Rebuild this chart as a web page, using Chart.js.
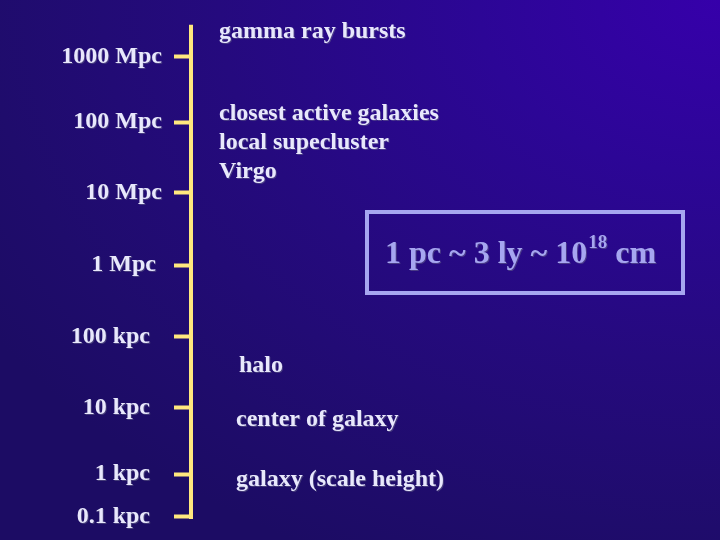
<!DOCTYPE html>
<html>
<head>
<meta charset="utf-8">
<script src="https://cdn.jsdelivr.net/npm/chart.js@4"></script>
<style>
  html, body { margin: 0; padding: 0; }
  body {
    width: 720px; height: 540px; overflow: hidden;
    background: radial-gradient(ellipse 120% 115% at 100% 0%, #3600aa 0%, #2c0696 28%, #250a7e 58%, #1f0c6c 85%, #1c0c64 100%);
  }
  #wrap { width: 720px; height: 540px; position: relative; }
</style>
</head>
<body>
<div id="wrap"><canvas id="ladder"></canvas></div>
<script>
// distance ladder, levels are log10(d / pc) as placed on the drawn scale
const tickLabels = ["1000 Mpc", "100 Mpc", "10 Mpc", "1 Mpc", "100 kpc", "10 kpc", "1 kpc", "0.1 kpc"];
const tickLevels = [9, 8.01, 6.93, 5.83, 4.74, 3.66, 2.65, 2.0];
const noteLabels = ["gamma ray bursts", "closest active galaxies", "local supecluster", "Virgo",
                    "halo", "center of galaxy", "galaxy (scale height)"];
const noteLevels = [9.38, 8.13, 7.69, 7.25, 4.30, 3.48, 2.56];
const ladderEnds = [9.49, 1.97];

// styling
const serif = "'Liberation Serif', 'Times New Roman', serif";
const textColor = "#e8e8fc";
const ladderColor = "#ffe87e";
const labelSpaces = [0, 0, 0, 1, 2, 2, 2, 2];
const noteIndent = [28, 28, 28, 28, 48, 45, 45];
const box = { x: 367, y: 212, w: 316, h: 81, color: "#a6a6f0" };

function setShadow(ctx) {
  ctx.shadowColor = "rgba(110,110,140,0.5)";
  ctx.shadowOffsetX = 1;
  ctx.shadowOffsetY = 1;
  ctx.shadowBlur = 0;
}

const notesPlugin = {
  id: "notes",
  afterDatasetsDraw(chart) {
    // tick labels (z = 1) are drawn after this hook, give them the slide shadow
    chart.ctx.save();
    setShadow(chart.ctx);
  },
  afterDraw(chart) {
    const ctx = chart.ctx;
    ctx.restore();
    const y = chart.scales.y;
    const left = chart.chartArea.left;
    ctx.save();
    setShadow(ctx);
    ctx.fillStyle = textColor;
    ctx.font = "bold 24px " + serif;
    ctx.textAlign = "left";
    ctx.textBaseline = "middle";
    noteLabels.forEach((t, i) => {
      ctx.fillText(t, left + noteIndent[i], y.getPixelForValue(noteLevels[i]));
    });
    ctx.restore();

    // unit box
    ctx.save();
    ctx.strokeStyle = box.color;
    ctx.lineWidth = 4;
    ctx.strokeRect(box.x, box.y, box.w, box.h);
    setShadow(ctx);
    ctx.fillStyle = box.color;
    ctx.textAlign = "left";
    ctx.textBaseline = "alphabetic";
    let x = 385;
    const base = 263;
    ctx.font = "bold 32px " + serif;
    const a = "1 pc ~ 3 ly ~ 10";
    ctx.fillText(a, x, base);
    x += ctx.measureText(a).width;
    ctx.font = "bold 19px " + serif;
    ctx.fillText("18", x + 1, base - 15);
    x += ctx.measureText("18").width + 1;
    ctx.font = "bold 32px " + serif;
    ctx.fillText(" cm", x, base);
    ctx.restore();
  }
};

new Chart(document.getElementById("ladder"), {
  type: "line",
  data: {
    datasets: [{
      data: ladderEnds.map(v => ({ x: 0, y: v })),
      borderColor: ladderColor,
      borderWidth: 4,
      borderCapStyle: "butt",
      pointRadius: 0,
      clip: false
    }]
  },
  options: {
    responsive: true,
    maintainAspectRatio: false,
    animation: false,
    events: [],
    layout: { padding: 0 },
    plugins: { legend: { display: false }, tooltip: { enabled: false } },
    scales: {
      x: { type: "linear", display: false, min: 0, max: 1 },
      y: {
        type: "linear",
        position: "left",
        min: 1.649,
        max: 9.867,
        afterBuildTicks: s => { s.ticks = tickLevels.map(v => ({ value: v })); },
        afterFit: s => { s.width = 191; s.paddingTop = 0; s.paddingBottom = 0; },
        border: { display: false },
        grid: {
          drawOnChartArea: false,
          drawTicks: true,
          tickLength: 17,
          tickWidth: 4,
          tickColor: ladderColor
        },
        ticks: {
          autoSkip: false,
          padding: 12,
          z: 1,
          color: textColor,
          font: { family: serif, size: 24, weight: "bold" },
          callback: (v, i) => tickLabels[i] + " ".repeat(labelSpaces[i])
        }
      }
    }
  },
  plugins: [notesPlugin]
});
</script>
</body>
</html>
